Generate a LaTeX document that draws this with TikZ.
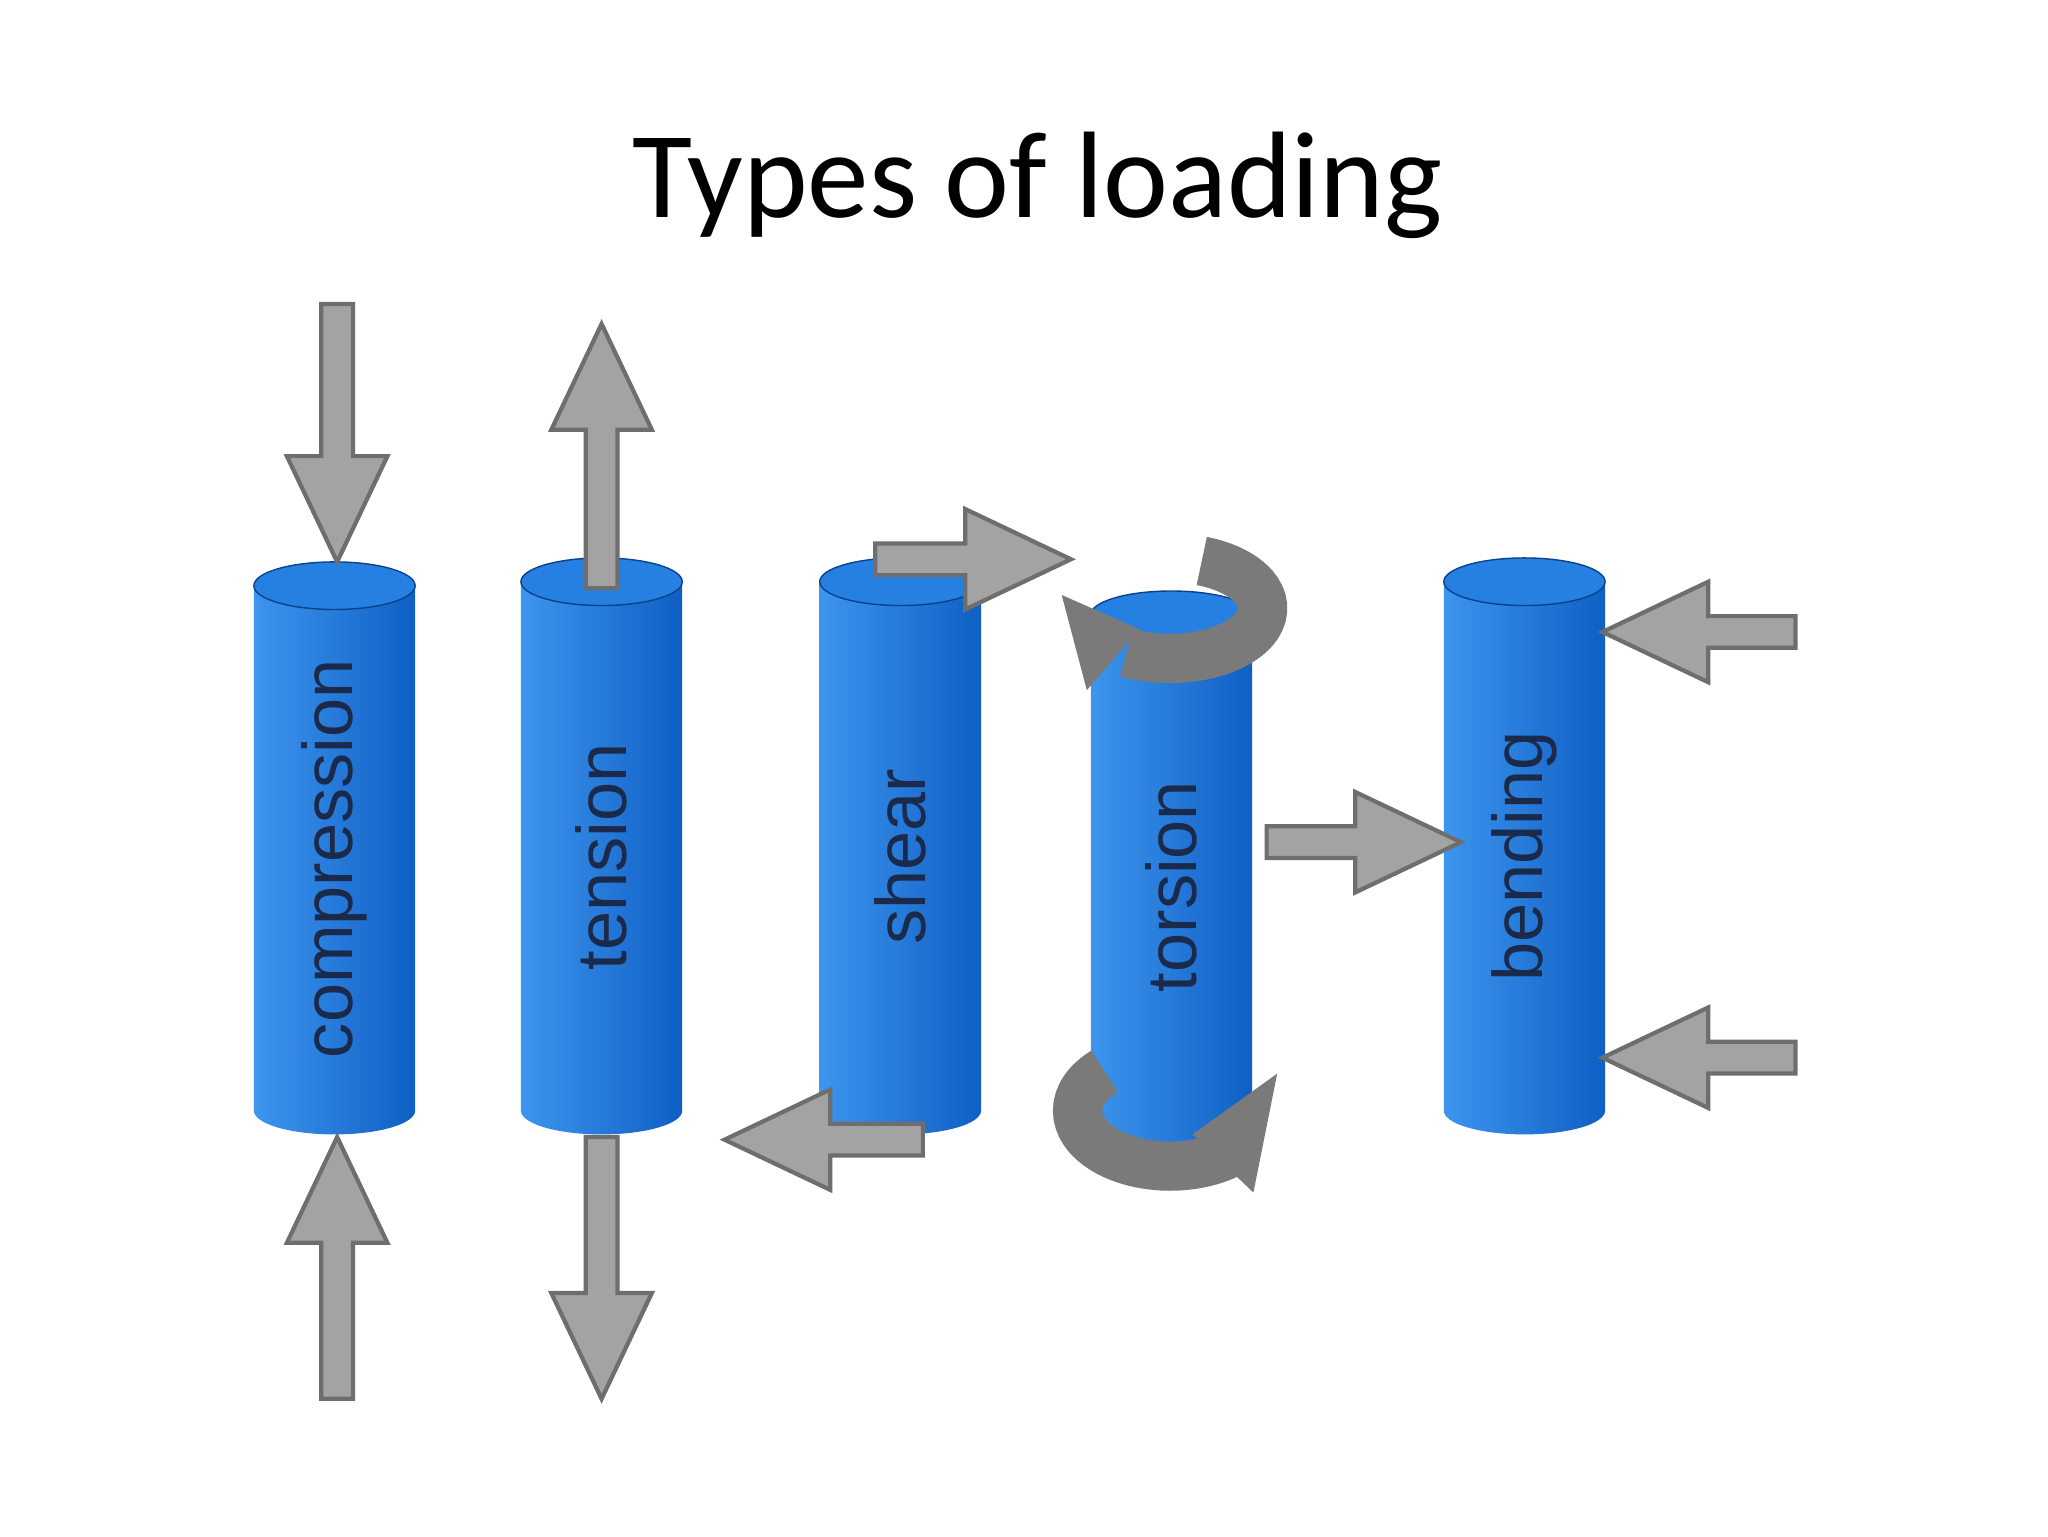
\documentclass[tikz,border=0pt]{standalone}
\usepackage{fontspec}
\setmainfont{Carlito}
\newfontfamily\labelfont{Liberation Sans}
\usetikzlibrary{calc}
\definecolor{cylleft}{HTML}{3D95EE}
\definecolor{cylright}{HTML}{0F5FC4}
\definecolor{cyltop}{HTML}{2580E2}
\definecolor{arrowfill}{HTML}{A3A3A3}
\definecolor{arrowline}{HTML}{6E6E6E}
\definecolor{twistcol}{HTML}{7A7A7A}
\definecolor{labeltext}{HTML}{1B2A4A}
\tikzset{
  load/.style={fill=arrowfill,draw=arrowline,line width=1.2pt,line join=miter},
  twist/.style={draw=twistcol,line width=14pt},
  cyllabel/.style={rotate=90,font=\labelfont\fontsize{20}{20}\selectfont,text=labeltext},
}
% #1 cx, #2 top y, #3 bottom y, #4 name, #5 label
\newcommand\cylinder[5]{
  \shade[left color=cylleft,right color=cylright]
    (#1-61,#2) -- (#1-61,#3) arc[start angle=180,end angle=0,x radius=61,y radius=18]
    -- (#1+61,#2) -- cycle;
  \fill[cyltop] (#1,#2) ellipse[x radius=61,y radius=18];
  \draw[cylright!70!black,line width=0.4pt] (#1,#2) ellipse[x radius=61,y radius=18];
  \node[cyllabel] (#4) at (#1,{(#2+#3)/2+8}) {#5};
}
% #1 tip x, #2 tip y, #3 angle, #4 length
\newcommand\blockarrow[4]{
  \begin{scope}[shift={(#1,#2)},rotate=#3]
    \draw[load] (0,0) -- (-80,38) -- (-80,12) -- (-#4,12) -- (-#4,-12)
      -- (-80,-12) -- (-80,-38) -- cycle;
  \end{scope}
}
\begin{document}
\begin{tikzpicture}[x=0.01322cm,y=-0.01322cm]
  \useasboundingbox (0,0) rectangle (1549,1162);
  \node[font=\fontsize{35}{40}\selectfont] (title) at (785,140) {Types of loading};

  \cylinder{253}{443}{840}{comp}{compression}
  \cylinder{455}{440}{840}{tens}{tension}
  \cylinder{681}{440}{840}{shear}{shear}
  \cylinder{886}{465}{860}{tors}{torsion}
  \cylinder{1153}{440}{840}{bend}{bending}

  % compression
  \blockarrow{255}{425}{-90}{195}
  \blockarrow{255}{860}{90}{198}
  % tension
  \blockarrow{455}{245}{90}{200}
  \blockarrow{455}{1058}{-90}{198}
  % shear
  \blockarrow{810}{423}{0}{148}
  \blockarrow{548}{862}{180}{150}
  % torsion
  \blockarrow{1105}{637}{0}{147}
  \draw[twist] (885,460) ++(-70:70 and 38) arc[start angle=-70,end angle=118,x radius=70,y radius=38];
  \fill[twistcol] (803,450) -- (822,522) -- (862,476) -- cycle;
  \draw[twist] (885,840) ++(225:70 and 42) arc[start angle=225,end angle=42,x radius=70,y radius=42];
  \fill[twistcol] (966,812) -- (948,902) -- (902,858) -- cycle;
  % bending
  \blockarrow{1212}{478}{180}{146}
  \blockarrow{1212}{800}{180}{146}
\end{tikzpicture}
\end{document}
